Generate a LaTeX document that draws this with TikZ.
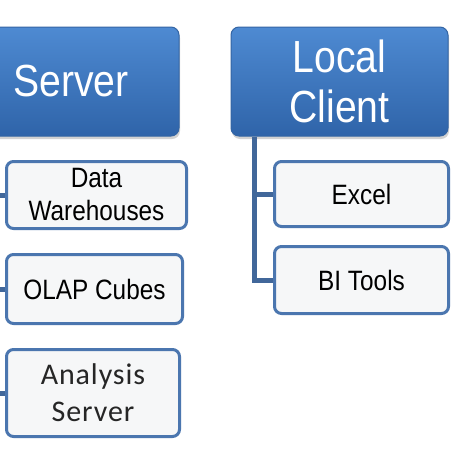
\documentclass[tikz,border=0pt]{standalone}
\usepackage{fontspec}
\setmainfont{Liberation Sans}[FakeStretch=0.87]
\newfontfamily\calfont{Carlito}[LetterSpace=3]
\usetikzlibrary{shadows}
\definecolor{parentTop}{HTML}{4E8AD2}
\definecolor{parentMid}{HTML}{3F7CC8}
\definecolor{parentBot}{HTML}{2F64A9}
\definecolor{parentEdge}{HTML}{3465A4}
\definecolor{childEdge}{HTML}{4B76AF}
\definecolor{childFill}{HTML}{F6F7F8}
\definecolor{linkBlue}{HTML}{41679A}
\tikzset{
  parent/.style={draw=parentEdge, line width=1pt, rounded corners=8pt,
    top color=parentTop, middle color=parentMid, bottom color=parentBot,
    text=white, align=center,
    inner sep=0pt, font=\fontsize{45}{50}\selectfont,
    drop shadow={shadow xshift=1pt, shadow yshift=-3pt, opacity=0.35}},
  child/.style={draw=childEdge, line width=3pt, rounded corners=7pt,
    fill=childFill, align=center, inner sep=0pt, text=black,
    font=\fontsize{28}{33}\selectfont},
  link/.style={draw=linkBlue, line width=5pt},
}
\begin{document}
\begin{tikzpicture}[x=1pt,y=-1pt]
\useasboundingbox (0,0) rectangle (456,456);
\clip (0,0) rectangle (456,456);
\fill[white] (0,0) rectangle (456,456);
% parents
\node[parent, minimum width=216pt, minimum height=109pt] (srv) at (71,81.5) {Server};
\node[parent, minimum width=217pt, minimum height=109pt] (lc) at (339.5,81.5) {Local\\Client};
% children
\node[child, minimum width=180pt, minimum height=67pt] (dw) at (96.5,195) {Data\\Warehouses};
\node[child, minimum width=176pt, minimum height=69pt] (olap) at (94.5,289) {OLAP Cubes};
\node[child, minimum width=173pt, minimum height=87pt, text=black!85,
  font=\calfont\fontsize{30}{37}\selectfont] (as) at (93,393) {Analysis\\Server};
\node[child, minimum width=174pt, minimum height=65pt] (ex) at (361.5,194) {Excel};
\node[child, minimum width=174pt, minimum height=67pt] (bi) at (361.5,280) {BI Tools};
% links
\draw[link] ([xshift=23.5pt]srv.south west) |- (dw.west);
\draw[link] ([xshift=23.5pt]srv.south west) |- (olap.west);
\draw[link] ([xshift=23.5pt]srv.south west) |- (as.west);
\draw[link] ([xshift=23.5pt]lc.south west) |- (ex.west);
\draw[link] ([xshift=23.5pt]lc.south west) |- (bi.west);
\end{tikzpicture}
\end{document}
